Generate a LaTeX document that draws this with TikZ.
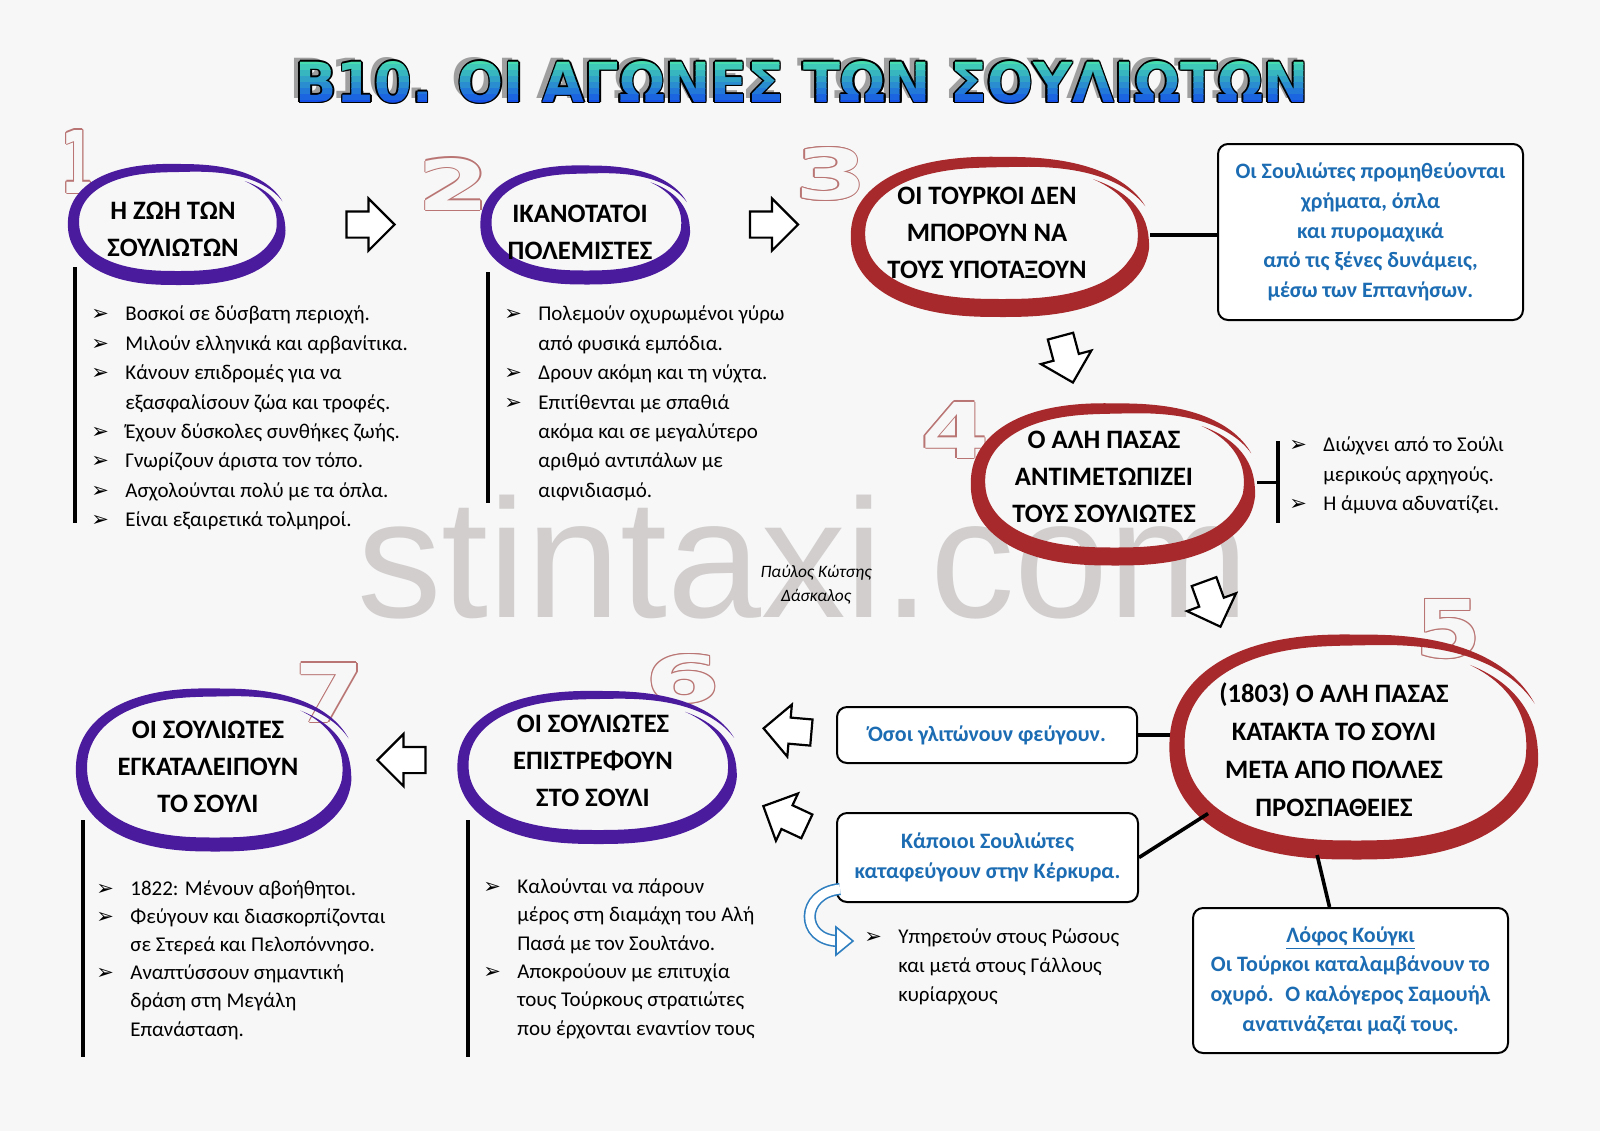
\documentclass[tikz,border=0pt]{standalone}
\usepackage{fontspec}
\setmainfont{Carlito}
\newfontfamily\djv{DejaVu Sans}
\newfontfamily\lib{Liberation Sans}
\usetikzlibrary{shapes.geometric,shapes.arrows,calc}
\definecolor{bgc}{HTML}{F7F7F7}
\definecolor{purp}{HTML}{4B1B9E}
\definecolor{redc}{HTML}{A8292B}
\definecolor{bluet}{HTML}{1B6CB2}
\definecolor{numc}{HTML}{B97573}
\definecolor{wmc}{HTML}{D2CECE}
\definecolor{tealc}{HTML}{46DDB0}
\definecolor{bluec}{HTML}{1550E8}
\definecolor{arrb}{HTML}{2F7FC0}
% swoosh (brush oval, superellipse)
\def\tz{20}
\def\tone{412}
\def\uu{((\t-\tz)/(\tone-\tz))}
\def\ww{(min(1,1.8*sin(180*\uu))*(0.8-0.2*sin(\t)))}
\def\rr{(1+0.06*max(0,1-(\t-\tz)/70)-0.05*max(0,(\t-\tone+60)/60))}
\def\cc{(sign(cos(\t))*pow(abs(cos(\t))+0.0001,0.8))}
\def\ss{(sign(sin(\t))*pow(abs(sin(\t))+0.0001,0.92))}
\newcommand\swoosh[6]{%
  \fill[#6] plot[domain=\tz:\tone,samples=170,variable=\t]
    ({#1+(#3*\rr+#5*\ww/2)*\cc},{#2-(#4*\rr+#5*\ww/2)*\ss})
    -- plot[domain=\tone:\tz,samples=170,variable=\t]
    ({#1+(#3*\rr-#5*\ww/2)*\cc},{#2-(#4*\rr-#5*\ww/2)*\ss}) -- cycle;}
% outlined digit
\newcommand\numl[6]{%
  \foreach \dx/\dy [count=\k] in {1.2/0,-1.2/0,0/1.2,0/-1.2,0.85/0.85,-0.85/0.85,0.85/-0.85,-0.85/-0.85}
    \node[inner sep=0pt,text=numc] (#1o\k) at ({#2+\dx},{#3+\dy}) {\resizebox{#4}{#5}{\djv\bfseries #6}};
  \node[inner sep=0pt,text=bgc] (#1) at (#2,#3) {\resizebox{#4}{#5}{\djv\bfseries #6}};}
\newcommand\ttl{\resizebox{506.5pt}{20.5pt}{\djv\bfseries B10. ΟΙ ΑΓΩΝΕΣ ΤΩΝ ΣΟΥΛΙΩΤΩΝ}}
\newcommand\bul{\makebox[17pt][l]{\raisebox{0pt}{\djv\fontsize{10.5}{10}\selectfont ➢}}\strut}
\newcommand\ind{\hspace*{17pt}\strut}
\begin{document}
\begin{tikzpicture}[x=0.5pt,y=-0.5pt,
  head/.style={font=\fontsize{13.3}{18.5}\selectfont\bfseries,align=center,inner sep=0pt},
  lst/.style={font=\fontsize{10.5}{14.7}\selectfont,align=left,inner sep=0pt,anchor=north west},
  bbox/.style={draw=black,line width=1pt,rounded corners=5pt,fill=white,align=center,
    font=\fontsize{11}{14.8}\selectfont\bfseries,text=bluet,inner sep=2pt},
  barrow/.style={single arrow,draw=black,fill=white,line width=1.1pt,minimum height=24pt,
    inner xsep=0pt,inner ysep=6pt,single arrow head extend=6.5pt},
  conn/.style={line width=1.8pt,black},
  vline/.style={line width=2pt,black},
  ell/.style={ellipse,draw=none,inner sep=0pt}]
\useasboundingbox (0,0) rectangle (1600,1131);
\fill[bgc] (0,0) rectangle (1600,1131);
% watermark
\node[anchor=base west,inner sep=0pt,text=wmc,font=\lib\fontsize{84.5}{90}\selectfont] (wm) at (357,617) {stintaxi.com};
% digits
\numl{n1}{77.5}{161.5}{16pt}{31.5pt}{1}
\numl{n2}{454}{184}{36pt}{26pt}{2}
\numl{n3}{831}{174}{36pt}{26pt}{3}
\numl{n4}{955}{430}{34pt}{28pt}{4}
\numl{n5}{1448.5}{629}{33pt}{29pt}{5}
\numl{n6}{683}{679}{37.5pt}{24pt}{6}
\numl{n7}{330}{692.5}{35pt}{29.5pt}{7}
% swooshes
\swoosh{177.5}{223}{104}{55}{14}{purp}
\swoosh{586}{223.5}{100}{54}{14}{purp}
\swoosh{1001}{235}{143}{73}{18}{redc}
\swoosh{1114}{482.5}{136}{74}{18}{redc}
\swoosh{1355}{745}{178}{105}{19}{redc}
\swoosh{598}{766}{135}{71}{14}{purp}
\swoosh{214.5}{768.5}{133}{76}{14}{purp}
% ellipse anchors
\node[ell,minimum width=109.5pt,minimum height=60pt] (e1) at (177.5,223) {};
\node[ell,minimum width=104pt,minimum height=58.5pt] (e2) at (586,223.5) {};
\node[ell,minimum width=149pt,minimum height=80pt] (e3) at (1001,235) {};
\node[ell,minimum width=143pt,minimum height=81.5pt] (e4) at (1114,482.5) {};
\node[ell,minimum width=185pt,minimum height=112pt] (e5) at (1355,745) {};
\node[ell,minimum width=140pt,minimum height=76pt] (e6) at (598,766) {};
\node[ell,minimum width=138.5pt,minimum height=81.5pt] (e7) at (214.5,768.5) {};
% headings
\node[head] (h1) at (173,229.5) {Η ΖΩΗ ΤΩΝ\\ΣΟΥΛΙΩΤΩΝ};
\node[head] (h2) at (580,232.5) {ΙΚΑΝΟΤΑΤΟΙ\\ΠΟΛΕΜΙΣΤΕΣ};
\node[head] (h3) at (987,233) {ΟΙ ΤΟΥΡΚΟΙ ΔΕΝ\\ΜΠΟΡΟΥΝ ΝΑ\\ΤΟΥΣ ΥΠΟΤΑΞΟΥΝ};
\node[head] (h4) at (1104,477) {Ο ΑΛΗ ΠΑΣΑΣ\\ΑΝΤΙΜΕΤΩΠΙΖΕΙ\\ΤΟΥΣ ΣΟΥΛΙΩΤΕΣ};
\node[head,font=\fontsize{13.3}{19}\selectfont\bfseries] (h5) at (1334,750) {(1803) Ο ΑΛΗ ΠΑΣΑΣ\\ΚΑΤΑΚΤΑ ΤΟ ΣΟΥΛΙ\\ΜΕΤΑ ΑΠΟ ΠΟΛΛΕΣ\\ΠΡΟΣΠΑΘΕΙΕΣ};
\node[head] (h6) at (593,761) {ΟΙ ΣΟΥΛΙΩΤΕΣ\\ΕΠΙΣΤΡΕΦΟΥΝ\\ΣΤΟ ΣΟΥΛΙ};
\node[head] (h7) at (208,766.5) {ΟΙ ΣΟΥΛΙΩΤΕΣ\\ΕΓΚΑΤΑΛΕΙΠΟΥΝ\\ΤΟ ΣΟΥΛΙ};
% lists
\node[lst] (l1) at (91,300) {\bul Βοσκοί σε δύσβατη περιοχή.\\\bul Μιλούν ελληνικά και αρβανίτικα.\\\bul Κάνουν επιδρομές για να\\\ind εξασφαλίσουν ζώα και τροφές.\\\bul Έχουν δύσκολες συνθήκες ζωής.\\\bul Γνωρίζουν άριστα τον τόπο.\\\bul Ασχολούνται πολύ με τα όπλα.\\\bul Είναι εξαιρετικά τολμηροί.};
\node[lst] (l2) at (504,300) {\bul Πολεμούν οχυρωμένοι γύρω\\\ind από φυσικά εμπόδια.\\\bul Δρουν ακόμη και τη νύχτα.\\\bul Επιτίθενται με σπαθιά\\\ind ακόμα και σε μεγαλύτερο\\\ind αριθμό αντιπάλων με\\\ind αιφνιδιασμό.};
\node[lst] (l4) at (1289,431) {\bul Διώχνει από το Σούλι\\\ind μερικούς αρχηγούς.\\\bul Η άμυνα αδυνατίζει.};
\node[lst] (l5) at (864,922) {\bul Υπηρετούν στους Ρώσους\\\ind και μετά στους Γάλλους\\\ind κυρίαρχους};
\node[lst,font=\fontsize{10.5}{14.2}\selectfont] (l6) at (483,873) {\bul Καλούνται να πάρουν\\\ind μέρος στη διαμάχη του Αλή\\\ind Πασά με τον Σουλτάνο.\\\bul Αποκρούουν με επιτυχία\\\ind τους Τούρκους στρατιώτες\\\ind που έρχονται εναντίον τους};
\node[lst,font=\fontsize{10.5}{14.1}\selectfont] (l7) at (96,875) {\bul 1822: Μένουν αβοήθητοι.\\\bul Φεύγουν και διασκορπίζονται\\\ind σε Στερεά και Πελοπόννησο.\\\bul Αναπτύσσουν σημαντική\\\ind δράση στη Μεγάλη\\\ind Επανάσταση.};
% author
\node[font=\fontsize{8.7}{12}\selectfont\itshape,align=center,inner sep=0pt] (auth) at (816,585) {Παύλος Κώτσης\\Δάσκαλος};
% vertical list lines
\coordinate (v1a) at (75,267); \coordinate (v1b) at (75,523);
\coordinate (v2a) at (488,272); \coordinate (v2b) at (488,503);
\coordinate (v6a) at (468,820); \coordinate (v6b) at (468,1057);
\coordinate (v7a) at (83,820); \coordinate (v7b) at (83,1057);
\draw[vline] (v1a) -- (v1b);
\draw[vline] (v2a) -- (v2b);
\draw[vline] (v6a) -- (v6b);
\draw[vline] (v7a) -- (v7b);
% boxes
\node[bbox,minimum width=152.5pt,minimum height=88pt] (b3) at (1370.5,232) {Οι Σουλιώτες προμηθεύονται\\χρήματα, όπλα\\και πυρομαχικά\\από τις ξένες δυνάμεις,\\μέσω των Επτανήσων.};
\node[bbox,minimum width=150pt,minimum height=28pt] (b5a) at (987,735) {Όσοι γλιτώνουν φεύγουν.};
\node[bbox,minimum width=150.5pt,minimum height=44.5pt] (b5b) at (987.5,857.5) {Κάποιοι Σουλιώτες\\καταφεύγουν στην Κέρκυρα.};
\node[bbox,minimum width=157.5pt,minimum height=72.5pt] (b5c) at (1350.5,980.5) {\underline{Λόφος Κούγκι}\\Οι Τούρκοι καταλαμβάνουν το\\οχυρό.~ Ο καλόγερος Σαμουήλ\\ανατινάζεται μαζί τους.};
% connectors
\coordinate (bar4t) at (1278,441); \coordinate (bar4b) at (1278,523);
\draw[conn] (e3.east) -- (e3.east -| b3.west);
\draw[conn] (e4.east) -- (e4.east -| bar4t);
\draw[vline] (bar4t) -- (bar4b);
\draw[conn] (b5a.east) -- (b5a.east -| e5.west);
\draw[conn] (b5b.east) -- (e5.205);
\draw[conn] (e5.251) -- ($(b5c.north)+(-21,0)$);
% block arrows
\node[barrow] (a12) at (364,224.5) {};
\node[barrow] (a23) at (767.5,224.5) {};
\node[barrow,rotate=-75] (a34) at (1065,353) {};
\node[barrow,rotate=-70] (a45) at (1210,598) {};
\node[barrow,rotate=175] (a56a) at (794,731) {};
\node[barrow,rotate=155] (a56b) at (791,819) {};
\node[barrow,rotate=180] (a67) at (408,760) {};
% curved blue arrow
\coordinate (ca) at (840,889); \coordinate (cb) at (838,941);
\draw[arrb,line width=0.8pt,double=white,double distance=4.5pt] (ca) .. controls (800,893) and (800,940) .. (cb);
\filldraw[fill=white,draw=arrb,line width=0.8pt] ($(cb)+(-2,-14)$) -- ($(cb)+(15,0)$) -- ($(cb)+(-2,14)$) -- cycle;
% title
\node[inner sep=0pt,text=gray!75] (tsh) at (796,78) {\ttl};
\foreach \dx/\dy [count=\k] in {1.6/0,-1.6/0,0/1.6,0/-1.6,1.1/1.1,-1.1/1.1,1.1/-1.1,-1.1/-1.1}
  \node[inner sep=0pt,text=black] (to\k) at ({802+\dx},{82+\dy}) {\ttl};
\foreach \i in {0,...,7}{
  \pgfmathsetmacro\ya{58+6*\i}
  \pgfmathsetmacro\yb{64+6*\i}
  \pgfmathtruncatemacro\pc{100*\i/7}
  \begin{scope}
    \clip (280,\ya) rectangle (1330,\yb);
    \node[inner sep=0pt,text=bluec!\pc!tealc] (tb\i) at (802,82) {\ttl};
  \end{scope}
}
\end{tikzpicture}
\end{document}
